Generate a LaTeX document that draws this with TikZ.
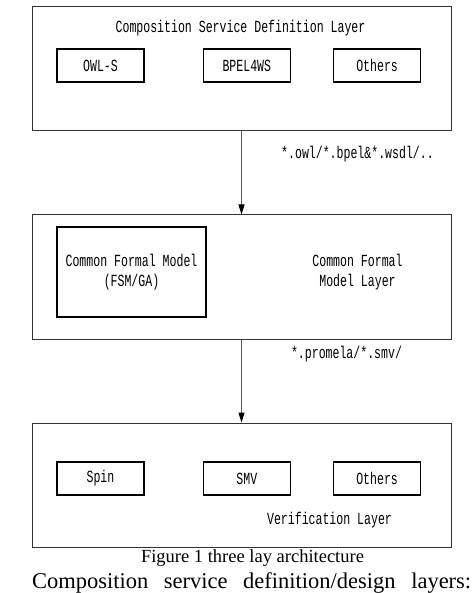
\documentclass[tikz,border=0pt]{standalone}
\usepackage{xcolor}
\usepackage{fontspec}
\setmainfont{Liberation Serif}
\newfontfamily\diagfont[FakeStretch=0.68]{Liberation Mono}
\usepackage{tikz}
\usetikzlibrary{positioning,arrows.meta}

\begin{document}
\begin{tikzpicture}[x = 1pt, y = -1pt, node distance = 83pt]
            \tikzstyle{layer} = [draw=black!80, line width=1pt, minimum width=419pt, minimum height=124pt]
            \tikzstyle{tool} = [draw=black, line width=1.3pt, minimum width=87pt, minimum height=33pt, font=\diagfont\fontsize{17}{20}\selectfont]
            \tikzstyle{txt} = [align=center, inner sep=0pt, font=\diagfont\fontsize{17}{20}\selectfont]
            \tikzstyle{flow} = [draw=black!65, line width=1pt, -{Triangle[length=10pt, width=6pt, color=black]}]
            \useasboundingbox (0,0) rectangle (474,593);

            \node [layer] (L1) at (241.5, 69) {};
            \node [layer, below = of L1] (L2) {};
            \node [layer, below = of L2] (L3) {};

            \node [txt] (T1) at (240.5, 28) {Composition Service Definition Layer};
            \node [tool] (OWL) at (100.5, 65.5) {OWL-S};
            \node [tool, right = 58pt of OWL] (BPEL) {BPEL4WS};
            \node [tool, right = 42pt of BPEL] (OTH1) {Others};

            \node [tool, line width=2pt, minimum width=149pt, minimum height=90pt, align=center] (CFM) at (131.5, 272) {Common Formal Model\\(FSM/GA)};
            \node [txt] (T2) at (357.5, 272) {Common Formal\\Model Layer};

            \node [tool] (SPIN) at (100.5, 478.5) {Spin};
            \node [tool, right = 58pt of SPIN] (SMV) {SMV};
            \node [tool, right = 42pt of SMV] (OTH2) {Others};
            \node [txt] (T3) at (329.5, 520) {Verification Layer};

            \draw [flow] (L1) to (L2);
            \draw [flow] (L2) to (L3);
            \node [txt] (F1) at (357.5, 154) {*.owl/*.bpel\&*.wsdl/..};
            \node [txt] (F2) at (346.5, 354) {*.promela/*.smv/};

            \node [inner sep=0pt, anchor=base, font=\fontsize{18.5}{20}\selectfont] (CAP) at (252.5, 562) {Figure 1 three lay architecture};
            \node [inner sep=0pt, anchor=base west, font=\fontsize{22.5}{26}\selectfont] (BODY) at (32, 588) {\makebox[439pt][s]{Composition service definition/design layers:}};
\end{tikzpicture}
\end{document}
